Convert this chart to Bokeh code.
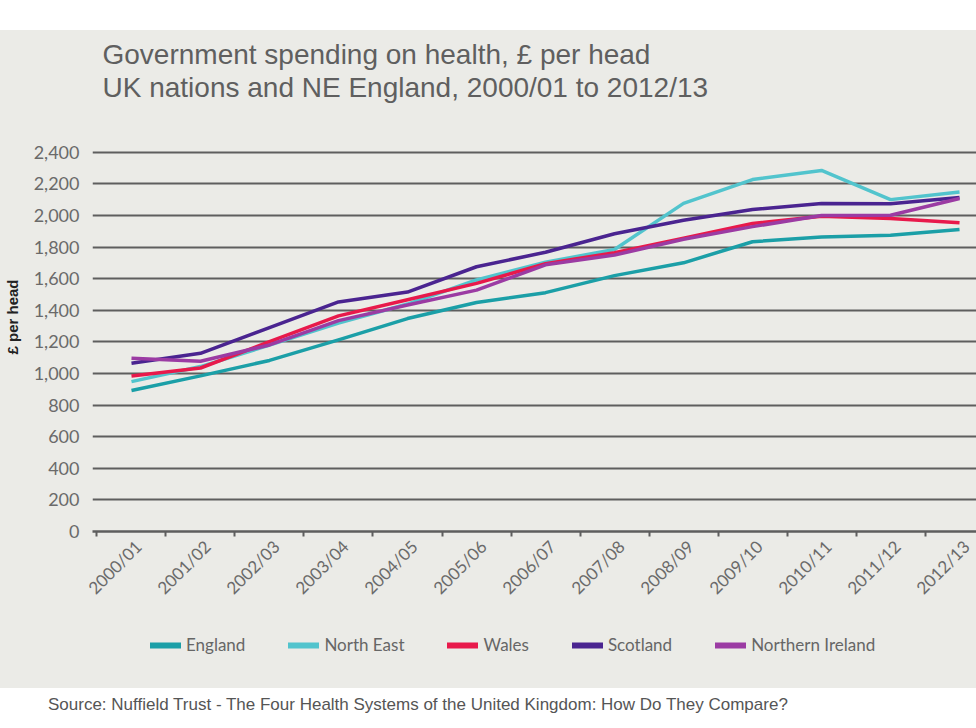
import math
from bokeh.plotting import figure
from bokeh.models import (FixedTicker, Legend, LegendItem, Title, NumeralTickFormatter,
                          Spacer, Div, Range1d)
from bokeh.layouts import column
from bokeh.embed import file_html
from bokeh.resources import INLINE

years = ["2000/01", "2001/02", "2002/03", "2003/04", "2004/05", "2005/06", "2006/07",
         "2007/08", "2008/09", "2009/10", "2010/11", "2011/12", "2012/13"]
england = [893, 985, 1083, 1213, 1348, 1450, 1512, 1620, 1701, 1834, 1865, 1876, 1912]
north_east = [949, 1044, 1180, 1320, 1440, 1592, 1705, 1785, 2077, 2228, 2286, 2101, 2149]
wales = [985, 1035, 1202, 1365, 1467, 1571, 1695, 1765, 1857, 1950, 1996, 1981, 1954]
scotland = [1065, 1128, 1290, 1453, 1516, 1676, 1768, 1885, 1970, 2038, 2076, 2075, 2114]
northern_ireland = [1097, 1078, 1181, 1335, 1434, 1528, 1688, 1750, 1850, 1930, 2000, 2002, 2108]
y_ticks = list(range(0, 2401, 200))

series = [
    ("England", england, "#1b9fa7"),
    ("North East", north_east, "#52c4cd"),
    ("Wales", wales, "#e8194b"),
    ("Scotland", scotland, "#4a2490"),
    ("Northern Ireland", northern_ireland, "#9b3ba3"),
]

BG = "#ebebe7"
GRID = "#5e5e5e"

xs = list(range(len(years)))
px_per_unit = 380 / 2400.0
y_end = 2400 + (152 - 102) / px_per_unit

p = figure(width=976, height=578, output_backend="svg", toolbar_location=None,
           x_range=Range1d(-0.565, 12.246), y_range=Range1d(0, y_end),
           min_border_left=92, min_border_right=0, min_border_top=72, min_border_bottom=76)
p.background_fill_color = BG
p.border_fill_color = BG
p.outline_line_color = None

# titles (first added sits nearest the frame)
p.add_layout(Title(text="UK nations and NE England, 2000/01 to 2012/13", align="left",
                   text_font="Liberation Sans", text_font_size="28px", text_font_style="normal",
                   text_color="#5f5f5f", offset=10, standoff=0), "above")
p.add_layout(Title(text="Government spending on health, £ per head", align="left",
                   text_font="Liberation Sans", text_font_size="28px", text_font_style="normal",
                   text_color="#5f5f5f", offset=10, standoff=0), "above")

# axes
p.yaxis.ticker = FixedTicker(ticks=y_ticks)
p.yaxis.formatter = NumeralTickFormatter(format="0,0")
p.yaxis.axis_line_color = None
p.yaxis.major_tick_line_color = None
p.yaxis.minor_tick_line_color = None
p.yaxis.major_label_text_font = "Lato"
p.yaxis.major_label_text_font_size = "18px"
p.yaxis.major_label_text_color = "#6a6a6a"
p.yaxis.major_label_standoff = 7
p.yaxis.axis_label = "£ per head"
p.yaxis.axis_label_text_font = "Liberation Sans"
p.yaxis.axis_label_text_font_size = "15px"
p.yaxis.axis_label_text_font_style = "bold"
p.yaxis.axis_label_text_color = "#222222"
p.yaxis.axis_label_standoff = 10

# category labels sit just right of each category centre, as in the original
label_pos = [round(i + 0.1, 1) for i in xs]
p.xaxis.ticker = FixedTicker(ticks=label_pos, minor_ticks=[i - 0.5 for i in range(len(years) + 1)])
p.xaxis.major_label_overrides = {pos: y for pos, y in zip(label_pos, years)}
p.xaxis.major_label_orientation = math.pi / 4
p.xaxis.major_label_text_font = "Lato"
p.xaxis.major_label_text_font_size = "17px"
p.xaxis.major_label_text_color = "#6a6a6a"
p.xaxis.major_label_standoff = 6
p.xaxis.axis_line_color = GRID
p.xaxis.axis_line_width = 2.5
p.xaxis.major_tick_line_color = None
p.xaxis.minor_tick_line_color = GRID
p.xaxis.minor_tick_line_width = 2
p.xaxis.minor_tick_out = 5
p.xaxis.minor_tick_in = 0

p.xgrid.grid_line_color = None
p.ygrid.grid_line_color = GRID
p.ygrid.grid_line_width = 2

for name, vals, col in series:
    p.line(xs, vals, line_color=col, line_width=3.5, line_join="round")

# legend strip (separate figure below the chart; its frame is aligned with the chart's)
lg = figure(width=976, height=80, output_backend="svg", toolbar_location=None,
            x_range=Range1d(-0.565, 12.246), y_range=Range1d(0, 1),
            x_axis_location=None, y_axis_location=None,
            min_border_left=0, min_border_right=0, min_border_top=0, min_border_bottom=0)
lg.background_fill_color = BG
lg.border_fill_color = BG
lg.outline_line_color = None
lg.xgrid.grid_line_color = None
lg.ygrid.grid_line_color = None

items = []
for name, vals, col in series:
    r = lg.line(xs, vals, line_color=col, line_width=6, line_cap="round", visible=False)
    items.append(LegendItem(label=name, renderers=[r]))

legend = Legend(items=items, orientation="horizontal", location=(58, 33),
                glyph_width=31, glyph_height=20, label_height=20, label_standoff=5, spacing=43,
                padding=0, margin=0, border_line_color=None, background_fill_alpha=0,
                inactive_fill_alpha=0,
                label_text_font="Lato", label_text_font_size="17px",
                label_text_color="#666666")
lg.add_layout(legend, "center")

source = Div(text="Source: Nuffield Trust - The Four Health Systems of the United Kingdom: How Do They Compare?",
             width=976, height=40,
             styles={"font-family": "'Liberation Sans', Arial, sans-serif", "font-size": "17px",
                     "color": "#555555", "padding-left": "43px", "padding-top": "0px",
                     "white-space": "nowrap"})

panel = column(p, lg, styles={"background-color": BG})
layout = column(Spacer(width=976, height=30), panel, source)

open("out.html", "w").write(file_html(layout, INLINE))
